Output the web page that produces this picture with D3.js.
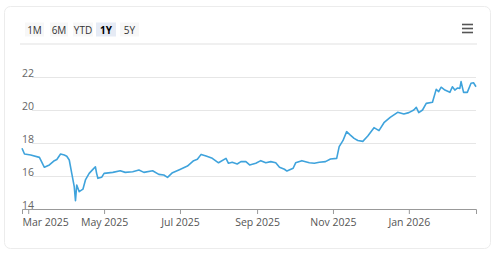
<!DOCTYPE html>
<html><head><meta charset="utf-8">
<script src="https://cdn.jsdelivr.net/npm/d3@7"></script>
<style>
html,body{margin:0;padding:0;background:#fff;}
svg{display:block;font-family:"Open Sans","Noto Sans",sans-serif;}
</style></head>
<body><svg id="c" width="500" height="253"></svg>
<script>
const dates = ["2025-02-24","2025-02-26","2025-03-03","2025-03-10","2025-03-13","2025-03-14","2025-03-18","2025-03-22","2025-03-24","2025-03-27","2025-03-30","2025-04-01","2025-04-03","2025-04-05","2025-04-07","2025-04-08","2025-04-09","2025-04-11","2025-04-14","2025-04-16","2025-04-19","2025-04-22","2025-04-24","2025-04-25","2025-04-26","2025-04-29","2025-05-01","2025-05-08","2025-05-14","2025-05-18","2025-05-24","2025-05-29","2025-06-02","2025-06-09","2025-06-14","2025-06-18","2025-06-21","2025-06-25","2025-07-01","2025-07-07","2025-07-12","2025-07-15","2025-07-18","2025-07-22","2025-07-27","2025-08-01","2025-08-07","2025-08-09","2025-08-12","2025-08-16","2025-08-19","2025-08-23","2025-08-26","2025-08-31","2025-09-04","2025-09-08","2025-09-12","2025-09-16","2025-09-19","2025-09-23","2025-09-25","2025-09-30","2025-10-02","2025-10-07","2025-10-13","2025-10-17","2025-10-21","2025-10-26","2025-10-30","2025-11-04","2025-11-06","2025-11-09","2025-11-12","2025-11-15","2025-11-18","2025-11-21","2025-11-25","2025-11-29","2025-12-04","2025-12-08","2025-12-12","2025-12-17","2025-12-23","2025-12-28","2026-01-01","2026-01-05","2026-01-07","2026-01-09","2026-01-12","2026-01-15","2026-01-20","2026-01-23","2026-01-25","2026-01-27","2026-01-30","2026-02-03","2026-02-05","2026-02-07","2026-02-09","2026-02-11","2026-02-12","2026-02-14","2026-02-17","2026-02-20","2026-02-22","2026-02-24"];
const prices = [17.68,17.33,17.27,17.13,16.67,16.53,16.67,16.93,17.0,17.33,17.27,17.2,16.97,16.16,15.35,14.5,15.45,15.05,15.2,15.76,16.16,16.4,16.56,16.16,15.86,15.92,16.16,16.22,16.32,16.22,16.26,16.36,16.22,16.32,16.1,16.06,15.92,16.2,16.4,16.6,16.93,17.01,17.31,17.21,17.07,16.8,17.07,16.77,16.83,16.73,16.87,16.87,16.67,16.77,16.93,16.8,16.87,16.8,16.53,16.41,16.3,16.47,16.8,16.93,16.8,16.77,16.83,16.87,17.03,17.07,17.78,18.14,18.69,18.48,18.28,18.15,18.1,18.42,18.93,18.75,19.23,19.55,19.86,19.76,19.84,20.0,20.16,19.84,20.0,20.4,20.47,21.25,21.11,21.38,21.21,21.07,21.41,21.21,21.33,21.31,21.72,21.07,21.07,21.62,21.65,21.41];
const yTicks = [14,16,18,20,22];
const xTickDates = ["2025-03-01","2025-05-01","2025-07-01","2025-09-01","2025-11-01","2026-01-01"];
const rangeButtons = ["1M","6M","YTD","1Y","5Y"];
const selectedRange = "1Y";

const parse = d3.utcParse("%Y-%m-%d");
const data = dates.map((d,i)=>({date:parse(d), value:prices[i]}));
const svg = d3.select("#c");

// card
svg.append("rect").attr("x",4.5).attr("y",6.5).attr("width",486).attr("height",242).attr("rx",6)
  .attr("fill","#fff").attr("stroke","#ececec");

// range buttons
const btnX = [25,50,73,96,120], btnW=[19,18,20,20,19];
rangeButtons.forEach((b,i)=>{
  const sel = b===selectedRange;
  svg.append("rect").attr("x",btnX[i]).attr("y",22.5).attr("width",btnW[i]).attr("height",14)
    .attr("fill", sel? "#e6ebf5":"#f7f7f7");
  svg.append("text").attr("x",btnX[i]+btnW[i]/2).attr("y",33.5).attr("text-anchor","middle")
    .attr("font-size",10).attr("font-weight", sel? 700:400).attr("fill", sel? "#000":"#333").text(b);
});
// separator
svg.append("line").attr("x1",20).attr("x2",477).attr("y1",44).attr("y2",44).attr("stroke","#f0f0f0").attr("stroke-width",2);
// hamburger
[24.5,28.5,32.5].forEach(y=>svg.append("line").attr("x1",462).attr("x2",473).attr("y1",y).attr("y2",y).attr("stroke","#555").attr("stroke-width",1.6));

const x = d3.scaleUtc().domain([parse("2025-02-24"), parse("2026-02-24")]).range([22,476]);
const y = d3.scaleLinear().domain([14,22]).range([209,77]);

// grid
const g = svg.append("g");
yTicks.filter(t=>t!==14).forEach(t=>{
  g.append("line").attr("x1",32).attr("x2",476).attr("y1",y(t)+0.5).attr("y2",y(t)+0.5).attr("stroke","#e6e6e6");
});
yTicks.forEach(t=>{
  g.append("text").attr("x",22).attr("y",y(t)-0.5).attr("font-size",10.5).attr("fill","#666").text(t);
});

// x axis
const xAxis = d3.axisBottom(x).tickValues(xTickDates.map(parse)).tickFormat(d3.utcFormat("%b %Y")).tickSizeOuter(0).tickSize(5);
const ax = svg.append("g").attr("transform",`translate(0,${y(14)})`).call(xAxis);
ax.select(".domain").attr("stroke","#999");
ax.selectAll(".tick line").attr("stroke","#999");
ax.selectAll(".tick text").attr("font-size",10.5).attr("fill","#555").attr("font-family","'Open Sans','Noto Sans',sans-serif").attr("dy","0.9em");
ax.selectAll(".tick text").filter((d,i)=>i===0).attr("text-anchor","start").attr("x",x(parse("2025-02-24"))-x(parse("2025-03-01")));

// line
svg.append("path").datum(data)
  .attr("d", d3.line().x(d=>x(d.date)).y(d=>y(d.value)))
  .attr("fill","none").attr("stroke","#3fa3dc").attr("stroke-width",1.6).attr("stroke-linejoin","round");
</script></body></html>
